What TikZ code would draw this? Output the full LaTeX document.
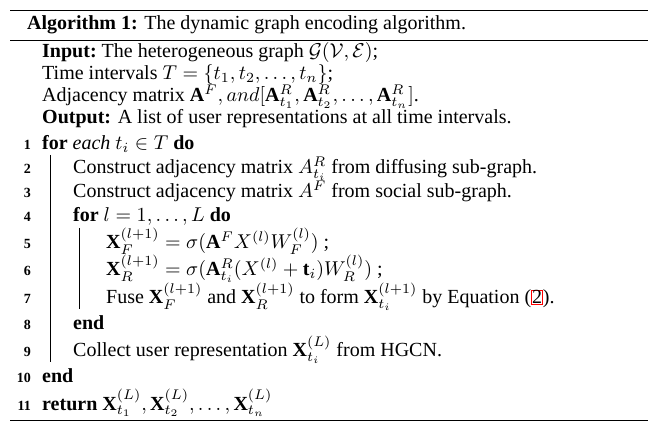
\documentclass[tikz,border=0pt]{standalone}
\usepackage{amsmath,amssymb}
\usepackage{fontspec}
\setmainfont{Liberation Serif}
\newcommand{\bigtxt}[1]{\scalebox{2}{#1}}
\begin{document}
\begin{tikzpicture}[x=1pt,y=-1pt,
  t/.style={anchor=base west,inner sep=0pt,font=\fontsize{10}{12}\selectfont},
  num/.style={anchor=base east,inner sep=0pt,font=\fontsize{7}{8}\selectfont\bfseries},
  rule/.style={line width=1pt}]
\useasboundingbox (0,0) rectangle (651,430);
\draw[rule] (10,11) coordinate (r1a) -- (648,11) coordinate (r1b);
\draw[rule,line width=0.7pt] (10,40) coordinate (r2a) -- (648,40) coordinate (r2b);
\draw[rule] (10,420) coordinate (r3a) -- (648,420) coordinate (r3b);
\node[t] (title) at (27,30) {\bigtxt{\textbf{Algorithm 1:} The dynamic graph encoding algorithm.}};
\node[t] (in1) at (42,58) {\bigtxt{\textbf{Input:}\ The heterogeneous graph $\mathcal{G}(\mathcal{V},\mathcal{E})$;}};
\node[t] (in2) at (42,80) {\bigtxt{Time intervals $T=\{t_1,t_2,\ldots,t_n\}$;}};
\node[t] (in3) at (42,102) {\bigtxt{Adjacency matrix $\mathbf{A}^F, and[\mathbf{A}^R_{t_1},\mathbf{A}^R_{t_2},\ldots,\mathbf{A}^R_{t_n}]$.}};
\node[t] (out) at (42,124) {\bigtxt{\textbf{Output:} A list of user representations at all time intervals.}};
\node[num] (n1) at (31,150) {\bigtxt{1}};
\node[t] (l1) at (42,150) {\bigtxt{\textbf{for} \textit{each} $t_i\in T$ \textbf{do}}};
\node[num] (n2) at (31,174) {\bigtxt{2}};
\node[t] (l2) at (73,174) {\bigtxt{Construct adjacency matrix $A^R_{t_i}$ from diffusing sub-graph.}};
\node[num] (n3) at (31,198) {\bigtxt{3}};
\node[t] (l3) at (73,198) {\bigtxt{Construct adjacency matrix $A^F$ from social sub-graph.}};
\node[num] (n4) at (31,222) {\bigtxt{4}};
\node[t] (l4) at (73,222) {\bigtxt{\textbf{for} $l=1,\ldots,L$ \textbf{do}}};
\node[num] (n5) at (31,249) {\bigtxt{5}};
\node[t] (l5) at (106,249) {\bigtxt{$\mathbf{X}^{(l+1)}_F=\sigma(\mathbf{A}^F X^{(l)}W^{(l)}_F)$ ;}};
\node[num] (n6) at (31,276) {\bigtxt{6}};
\node[t] (l6) at (106,276) {\bigtxt{$\mathbf{X}^{(l+1)}_R=\sigma(\mathbf{A}^R_{t_i}(X^{(l)}+\mathbf{t}_i)W^{(l)}_R)$ ;}};
\node[num] (n7) at (31,304) {\bigtxt{7}};
\node[t] (l7) at (106,304) {\bigtxt{Fuse $\mathbf{X}^{(l+1)}_F$ and $\mathbf{X}^{(l+1)}_R$ to form $\mathbf{X}^{(l+1)}_{t_i}$ by Equation (\tikz[baseline=0pt]\node[draw=red,inner sep=0.3pt,anchor=base,line width=0.3pt] (ref) {2};).}};
\node[num] (n8) at (31,330) {\bigtxt{8}};
\node[t] (l8) at (73,330) {\bigtxt{\textbf{end}}};
\node[num] (n9) at (31,357) {\bigtxt{9}};
\node[t] (l9) at (73,357) {\bigtxt{Collect user representation $\mathbf{X}^{(L)}_{t_i}$ from HGCN.}};
\node[num] (n10) at (31,383) {\bigtxt{10}};
\node[t] (l10) at (42,383) {\bigtxt{\textbf{end}}};
\node[num] (n11) at (31,410) {\bigtxt{11}};
\node[t] (l11) at (42,410) {\bigtxt{\textbf{return} $\mathbf{X}^{(L)}_{t_1},\mathbf{X}^{(L)}_{t_2},\ldots,\mathbf{X}^{(L)}_{t_n}$}};
\draw[line width=0.6pt] (50,155) coordinate (b1a) -- (50,362) coordinate (b1b);
\draw[line width=0.6pt] (79,228) coordinate (b2a) -- (79,309) coordinate (b2b);
\end{tikzpicture}
\end{document}
